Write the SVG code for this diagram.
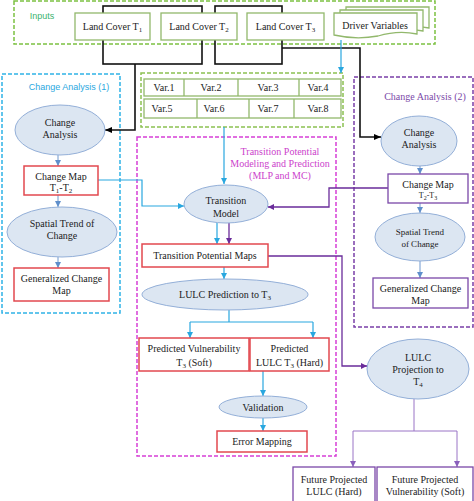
<svg xmlns="http://www.w3.org/2000/svg" width="474" height="501" viewBox="0 0 474 501">
<defs>
<marker id="aBlk" markerUnits="userSpaceOnUse" markerWidth="7" markerHeight="6" refX="7" refY="3" orient="auto"><path d="M0,0 L7,3 L0,6 z" fill="#000"/></marker>
<marker id="aCy" markerUnits="userSpaceOnUse" markerWidth="6" markerHeight="6" refX="6" refY="3" orient="auto"><path d="M0,0 L6,3 L0,6 z" fill="#29a7df"/></marker>
<marker id="aSt" markerUnits="userSpaceOnUse" markerWidth="6" markerHeight="6" refX="6" refY="3" orient="auto"><path d="M0,0 L6,3 L0,6 z" fill="#5f8fcb"/></marker>
<marker id="aPu" markerUnits="userSpaceOnUse" markerWidth="6" markerHeight="6" refX="6" refY="3" orient="auto"><path d="M0,0 L6,3 L0,6 z" fill="#6a2c9a"/></marker>
<marker id="aLp" markerUnits="userSpaceOnUse" markerWidth="6" markerHeight="6" refX="6" refY="3" orient="auto"><path d="M0,0 L6,3 L0,6 z" fill="#8a5fbc"/></marker>
</defs>
<style>
text{font-family:"Liberation Serif","Times New Roman",serif;font-size:10px;fill:#222;text-anchor:middle}
.sans{font-family:"Liberation Sans",Arial,sans-serif;font-size:9px}
.sub{font-size:7px}
.gbox{fill:#fff;stroke:#92b86c;stroke-width:1.3}
.rbox{fill:#fff;stroke:#e2484f;stroke-width:1.5}
.pbox{fill:#fff;stroke:#7a48a8;stroke-width:1.3}
.ell{fill:#dce6f2;stroke:#93afd8;stroke-width:1}
.blk{fill:none;stroke:#111;stroke-width:1.6}
.cy{fill:none;stroke:#29a7df;stroke-width:1.2}
.st{fill:none;stroke:#6f98cf;stroke-width:1}
.pu{fill:none;stroke:#6a2c9a;stroke-width:1.3}
.lp{fill:none;stroke:#9a74c6;stroke-width:1}
.frame{fill:none;stroke-width:1.5;stroke-dasharray:4 2}
</style>
<rect width="474" height="501" fill="#fff"/>

<g id="frames">
<rect class="frame" x="14" y="1" width="421" height="43" stroke="#7cc142"/>
<rect class="frame" x="2" y="74" width="118" height="239" stroke="#2fb2e6"/>
<rect class="frame" x="141" y="73" width="202" height="54" stroke="#8cc152" stroke-width="1" stroke-dasharray="2 1.5"/>
<rect class="frame" x="137" y="137" width="199" height="319" stroke="#d63fd6"/>
<rect class="frame" x="354" y="77" width="119" height="250" stroke="#7a3fa8"/>
<text class="sans" x="42" y="18.5" style="fill:#3bb26e">Inputs</text>
<text class="sans" x="69" y="90" style="fill:#2aa8e0">Change Analysis (1)</text>
<text x="425" y="99.5" style="fill:#7a48a8">Change Analysis (2)</text>
<text x="280" y="154.5" style="fill:#cc3fcc">Transition Potential</text>
<text x="280" y="166.5" style="fill:#cc3fcc">Modeling and Prediction</text>
<text x="280" y="178.5" style="fill:#cc3fcc">(MLP and MC)</text>
</g>

<g id="connectors">
<rect class="blk" x="103" y="6" width="99" height="58"/>
<rect class="blk" x="215" y="6" width="67" height="58"/>
<path class="blk" d="M135,64 V130 H105" marker-end="url(#aBlk)"/>
<path class="blk" d="M282,48 H360 V137 H381" marker-end="url(#aBlk)"/>
<path class="cy" d="M341,40 V73" marker-end="url(#aCy)"/>
<path class="cy" d="M224,127 V184" marker-end="url(#aCy)"/>
<path class="st" d="M58,155 V166" marker-end="url(#aSt)"/>
<path class="st" d="M58,195 V207" marker-end="url(#aSt)"/>
<path class="st" d="M58,257 V268" marker-end="url(#aSt)"/>
<path class="cy" d="M98,180 H142 V206 H184" marker-end="url(#aCy)"/>
<path class="pu" d="M388,188 H329 V207 H268" marker-end="url(#aPu)"/>
<path class="cy" d="M217,223 V244" marker-end="url(#aCy)"/>
<path class="pu" d="M229,223 V244" marker-end="url(#aPu)"/>
<path class="pu" d="M268,256 H342 V366 H367" marker-end="url(#aPu)"/>
<path class="cy" d="M224,267 V279" marker-end="url(#aCy)"/>
<path class="cy" d="M229,310 V322 M190,322 H313"/>
<path class="cy" d="M190,322 V338" marker-end="url(#aCy)"/>
<path class="cy" d="M313,322 V338" marker-end="url(#aCy)"/>
<path class="cy" d="M263,371 V396" marker-end="url(#aCy)"/>
<path class="cy" d="M263,418 V431" marker-end="url(#aCy)"/>
<path class="st" d="M420,166 V174" marker-end="url(#aSt)"/>
<path class="st" d="M420,203 V213" marker-end="url(#aSt)"/>
<path class="st" d="M420,261 V278" marker-end="url(#aSt)"/>
<path class="lp" d="M414,399 V431 M353,431 H457"/>
<path class="lp" d="M353,431 V467" marker-end="url(#aLp)"/>
<path class="lp" d="M457,431 V467" marker-end="url(#aLp)"/>
</g>

<g id="lc1"><rect class="gbox" x="75" y="13" width="75" height="27"/><text x="112.5" y="30">Land Cover T<tspan class="sub" dy="2">1</tspan></text></g>
<g id="lc2"><rect class="gbox" x="161" y="13" width="76" height="27"/><text x="199" y="30">Land Cover T<tspan class="sub" dy="2">2</tspan></text></g>
<g id="lc3"><rect class="gbox" x="247" y="13" width="77" height="27"/><text x="285.5" y="30">Land Cover T<tspan class="sub" dy="2">3</tspan></text></g>
<g id="drivers">
<path class="gbox" d="M346,7 H429 V28 Q410,24 390,30 Q368,34 346,29 Z"/>
<path class="gbox" d="M340,10 H423 V31 Q404,27 384,33 Q362,37 340,32 Z"/>
<path class="gbox" d="M334,13 H417 V34 Q398,30 378,36 Q356,40 334,35 Z"/>
<text x="375" y="29">Driver Variables</text>
</g>

<g id="vars">
<rect class="gbox" x="144" y="79" width="197" height="17"/>
<path class="gbox" d="M184,79 V96 M238,79 V96 M299,79 V96"/>
<rect class="gbox" x="144" y="99" width="197" height="19"/>
<path class="gbox" d="M197,99 V118 M249,99 V118 M294,99 V118"/>
<text x="164" y="91">Var.1</text><text x="211" y="91">Var.2</text><text x="268" y="91">Var.3</text><text x="318" y="91">Var.4</text>
<text x="162" y="112">Var.5</text><text x="214" y="112">Var.6</text><text x="268" y="112">Var.7</text><text x="318" y="112">Var.8</text>
</g>

<g id="ca1"><ellipse class="ell" cx="60" cy="130" rx="45" ry="25"/><text x="60" y="125.5">Change</text><text x="60" y="137.5">Analysis</text></g>
<g id="cm12"><rect class="rbox" x="24" y="166" width="74" height="29"/><text x="61" y="179.5">Change Map</text><text x="61" y="191">T<tspan class="sub" dy="2">1</tspan><tspan dy="-2">-T</tspan><tspan class="sub" dy="2">2</tspan></text></g>
<g id="st1"><ellipse class="ell" cx="62" cy="232" rx="55" ry="25"/><text x="62" y="226.5">Spatial Trend of</text><text x="62" y="238.5">Change</text></g>
<g id="gcm1"><rect class="rbox" x="14" y="268" width="95" height="33"/><text x="61.5" y="281.5">Generalized Change</text><text x="61.5" y="293.5">Map</text></g>

<g id="tm"><ellipse class="ell" cx="226" cy="204" rx="42" ry="19"/><text x="226" y="203.5">Transition</text><text x="226" y="216.5">Model</text></g>
<g id="tpm"><rect class="rbox" x="142" y="244" width="126" height="23"/><text x="205" y="259">Transition Potential Maps</text></g>
<g id="lp3"><ellipse class="ell" cx="225" cy="294.5" rx="83" ry="15.5"/><text x="225" y="297.5">LULC Prediction to T<tspan class="sub" dy="2">3</tspan></text></g>
<g id="pv"><rect class="rbox" x="139" y="338" width="110" height="33"/><text x="194" y="351.5">Predicted Vulnerability</text><text x="194" y="365.5">T<tspan class="sub" dy="2">3</tspan><tspan dy="-2"> (Soft)</tspan></text></g>
<g id="pl"><rect class="rbox" x="250" y="338" width="79" height="33"/><text x="289.5" y="351.5">Predicted</text><text x="289.5" y="365.5">LULC T<tspan class="sub" dy="2">3</tspan><tspan dy="-2"> (Hard)</tspan></text></g>
<g id="val"><ellipse class="ell" cx="263" cy="407" rx="44" ry="11"/><text x="263" y="410.5">Validation</text></g>
<g id="em"><rect class="rbox" x="217" y="431" width="90" height="21"/><text x="262" y="444.5">Error Mapping</text></g>

<g id="ca2"><ellipse class="ell" cx="419" cy="141" rx="38" ry="25"/><text x="419" y="135.5">Change</text><text x="419" y="147.5">Analysis</text></g>
<g id="cm23"><rect class="pbox" x="388" y="174" width="80" height="29"/><text x="428" y="187.5">Change Map</text><text x="428" y="198" style="font-size:8px">T<tspan style="font-size:6px" dy="1.5">2</tspan><tspan dy="-1.5">-T</tspan><tspan style="font-size:6px" dy="1.5">3</tspan></text></g>
<g id="st2"><ellipse class="ell" cx="420" cy="237" rx="45" ry="24"/><text x="420" y="235" style="font-size:9px">Spatial Trend</text><text x="420" y="246.5" style="font-size:9px">of Change</text></g>
<g id="gcm2"><rect class="pbox" x="373" y="278" width="95" height="30"/><text x="420.5" y="292">Generalized Change</text><text x="420.5" y="304">Map</text></g>
<g id="lp4"><ellipse class="ell" cx="418" cy="369" rx="51" ry="30"/><text x="418" y="360.5">LULC</text><text x="418" y="372.5">Projection to</text><text x="418" y="385">T<tspan class="sub" dy="2">4</tspan></text></g>
<g id="fpl"><rect class="pbox" x="293" y="467" width="82" height="36"/><text x="334" y="482.5">Future Projected</text><text x="334" y="494.5">LULC (Hard)</text></g>
<g id="fpv"><rect class="pbox" x="377" y="467" width="96" height="36"/><text x="425" y="482.5">Future Projected</text><text x="425" y="494.5">Vulnerability (Soft)</text></g>
</svg>
